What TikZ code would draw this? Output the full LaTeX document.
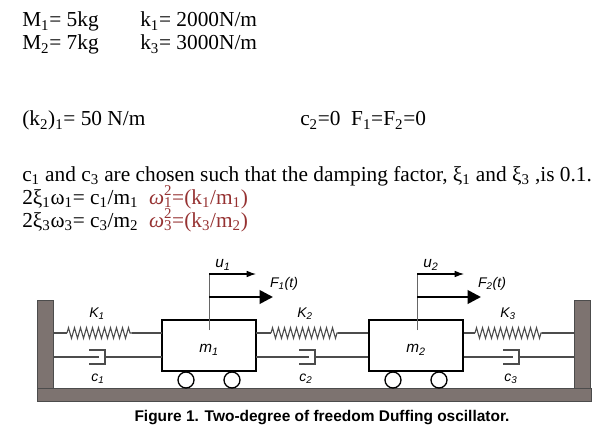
\documentclass[tikz,border=0pt]{standalone}
\usepackage{fontspec}
\setmainfont{Liberation Serif}
\setsansfont{Liberation Sans}
\usetikzlibrary{decorations.pathmorphing,arrows.meta}
\definecolor{wallc}{RGB}{125,115,112}
\definecolor{redt}{RGB}{150,50,50}
\newcommand{\sbsp}[2]{\makebox[0pt][l]{\textsuperscript{#1}}\textsubscript{#2}}
\begin{document}
\begin{tikzpicture}[x=0.75pt,y=-0.75pt,
  txt/.style={anchor=base west,inner sep=0,font=\fontsize{16}{18}\selectfont},
  lab/.style={inner sep=0,font=\sffamily\itshape\fontsize{10.5}{12}\selectfont},
  wallbox/.style={draw=black!70,fill=wallc,line width=0.6pt},
  massbox/.style={draw=black,line width=1pt,fill=white},
  wire/.style={draw=black!70,line width=0.8pt},
  springz/.style={wire,decorate,decoration={zigzag,segment length=4.5pt,amplitude=4pt}},
  wheel/.style={draw=black,line width=1pt,fill=white}]
\useasboundingbox (0,0) rectangle (602,431);
% text
\node[txt] (t1) at (22,27) {M\textsubscript{1}= 5kg};
\node[txt] (t2) at (140,27) {k\textsubscript{1}= 2000N/m};
\node[txt] (t3) at (22,50) {M\textsubscript{2}= 7kg};
\node[txt] (t4) at (140,50) {k\textsubscript{3}= 3000N/m};
\node[txt] (t5) at (22,126) {(k\textsubscript{2})\textsubscript{1}= 50 N/m};
\node[txt] (t6) at (300,126) {c\textsubscript{2}=0\ \ F\textsubscript{1}=F\textsubscript{2}=0};
\node[txt] (t7) at (22,181) {c\textsubscript{1} and c\textsubscript{3} are chosen such that the damping factor, ξ\textsubscript{1} and ξ\textsubscript{3} ,is 0.1.};
\node[txt] (t8) at (22,204) {2ξ\textsubscript{1}ω\textsubscript{1}= c\textsubscript{1}/m\textsubscript{1}\ \ \textcolor{redt}{\textit{ω}\sbsp{2}{1}=(k\textsubscript{1}/m\textsubscript{1})}};
\node[txt] (t9) at (22,227) {2ξ\textsubscript{3}ω\textsubscript{3}= c\textsubscript{3}/m\textsubscript{2}\ \ \textcolor{redt}{\textit{ω}\sbsp{2}{3}=(k\textsubscript{3}/m\textsubscript{2})}};
% walls and base
\path[wallbox] (37,388) rectangle (591,401);
\node[wallbox,minimum width=16*0.75pt,minimum height=88*0.75pt,inner sep=0] (wl) at (45,344) {};
\node[wallbox,minimum width=16*0.75pt,minimum height=88*0.75pt,inner sep=0] (wr) at (582,344) {};
% masses
\node[massbox,minimum width=94*0.75pt,minimum height=51*0.75pt,inner sep=0] (m1) at (209,345.5) {};
\node[massbox,minimum width=94*0.75pt,minimum height=51*0.75pt,inner sep=0] (m2) at (416,345.5) {};
\node[lab,font=\sffamily\itshape\fontsize{11.5}{13}\selectfont] (lm1) at (209,350) {m\textsubscript{\itshape 1}};
\node[lab,font=\sffamily\itshape\fontsize{11.5}{13}\selectfont] (lm2) at (416,350) {m\textsubscript{\itshape 2}};
% wheels
\foreach \n/\x in {w1/186,w2/232,w3/393,w4/439}
  \node[wheel,circle,minimum size=16*0.75pt,inner sep=0] (\n) at (\x,380) {};
% springs
\coordinate (s1a) at (53,333); \coordinate (s1b) at (67,333); \coordinate (s1c) at (132,333); \coordinate (s1d) at (162,333);
\draw[wire] (s1a) -- (s1b); \draw[springz] (s1b) -- (s1c); \draw[wire] (s1c) -- (s1d);
\coordinate (s2a) at (256,333); \coordinate (s2b) at (271,333); \coordinate (s2c) at (338,333); \coordinate (s2d) at (368,333);
\draw[wire] (s2a) -- (s2b); \draw[springz] (s2b) -- (s2c); \draw[wire] (s2c) -- (s2d);
\coordinate (s3a) at (464,333); \coordinate (s3b) at (475,333); \coordinate (s3c) at (542,333); \coordinate (s3d) at (574,333);
\draw[wire] (s3a) -- (s3b); \draw[springz] (s3b) -- (s3c); \draw[wire] (s3c) -- (s3d);
% dampers
\foreach \xa/\xc/\xb/\n in {53/89/162/1,256/299/368/2,464/503/574/3}{
  \coordinate (d\n a) at (\xa,357); \coordinate (d\n b) at (\xb,357);
  \draw[wire] (d\n a) -- (\xc+10,357);
  \draw[wire] (\xc,350) -- (\xc+16,350) -- (\xc+16,364) -- (\xc,364);
  \draw[wire] (\xc+16,357) -- (d\n b);
}
% labels
\node[lab] (k1) at (97,314) {K\textsubscript{\itshape 1}};
\node[lab] (k2) at (305,314) {K\textsubscript{\itshape 2}};
\node[lab] (k3) at (508,314) {K\textsubscript{\itshape 3}};
\node[lab] (c1) at (98,379) {c\textsubscript{\itshape 1}};
\node[lab] (c2) at (306,379) {c\textsubscript{\itshape 2}};
\node[lab] (c3) at (511,379) {c\textsubscript{\itshape 3}};
% displacement & force arrows
\foreach \x/\n in {209/1,417/2}{
  \coordinate (v\n b) at (\x,330); \coordinate (v\n t) at (\x,274);
  \draw[draw=black!60,line width=0.5pt] (v\n b) -- (v\n t);
  \draw[line width=0.8pt,-{Latex[length=7pt,width=5pt]}] (v\n t) -- (\x+47,274);
  \draw[line width=2pt,-{Triangle[length=10pt,width=10pt]}] (\x,297) -- (\x+64,297);
  \node[lab,font=\sffamily\itshape\fontsize{11.5}{13}\selectfont] (u\n) at (\x+14,265) {u\textsubscript{\itshape \n}};
  \node[lab] (f\n) at (\x+75,284) {F\textsubscript{\itshape \n}(t)};
}
\node[inner sep=0,font=\sffamily\bfseries\fontsize{11.6}{13}\selectfont] (cap) at (322,418) {Figure 1. Two-degree of freedom Duffing oscillator.};
\end{tikzpicture}
\end{document}
